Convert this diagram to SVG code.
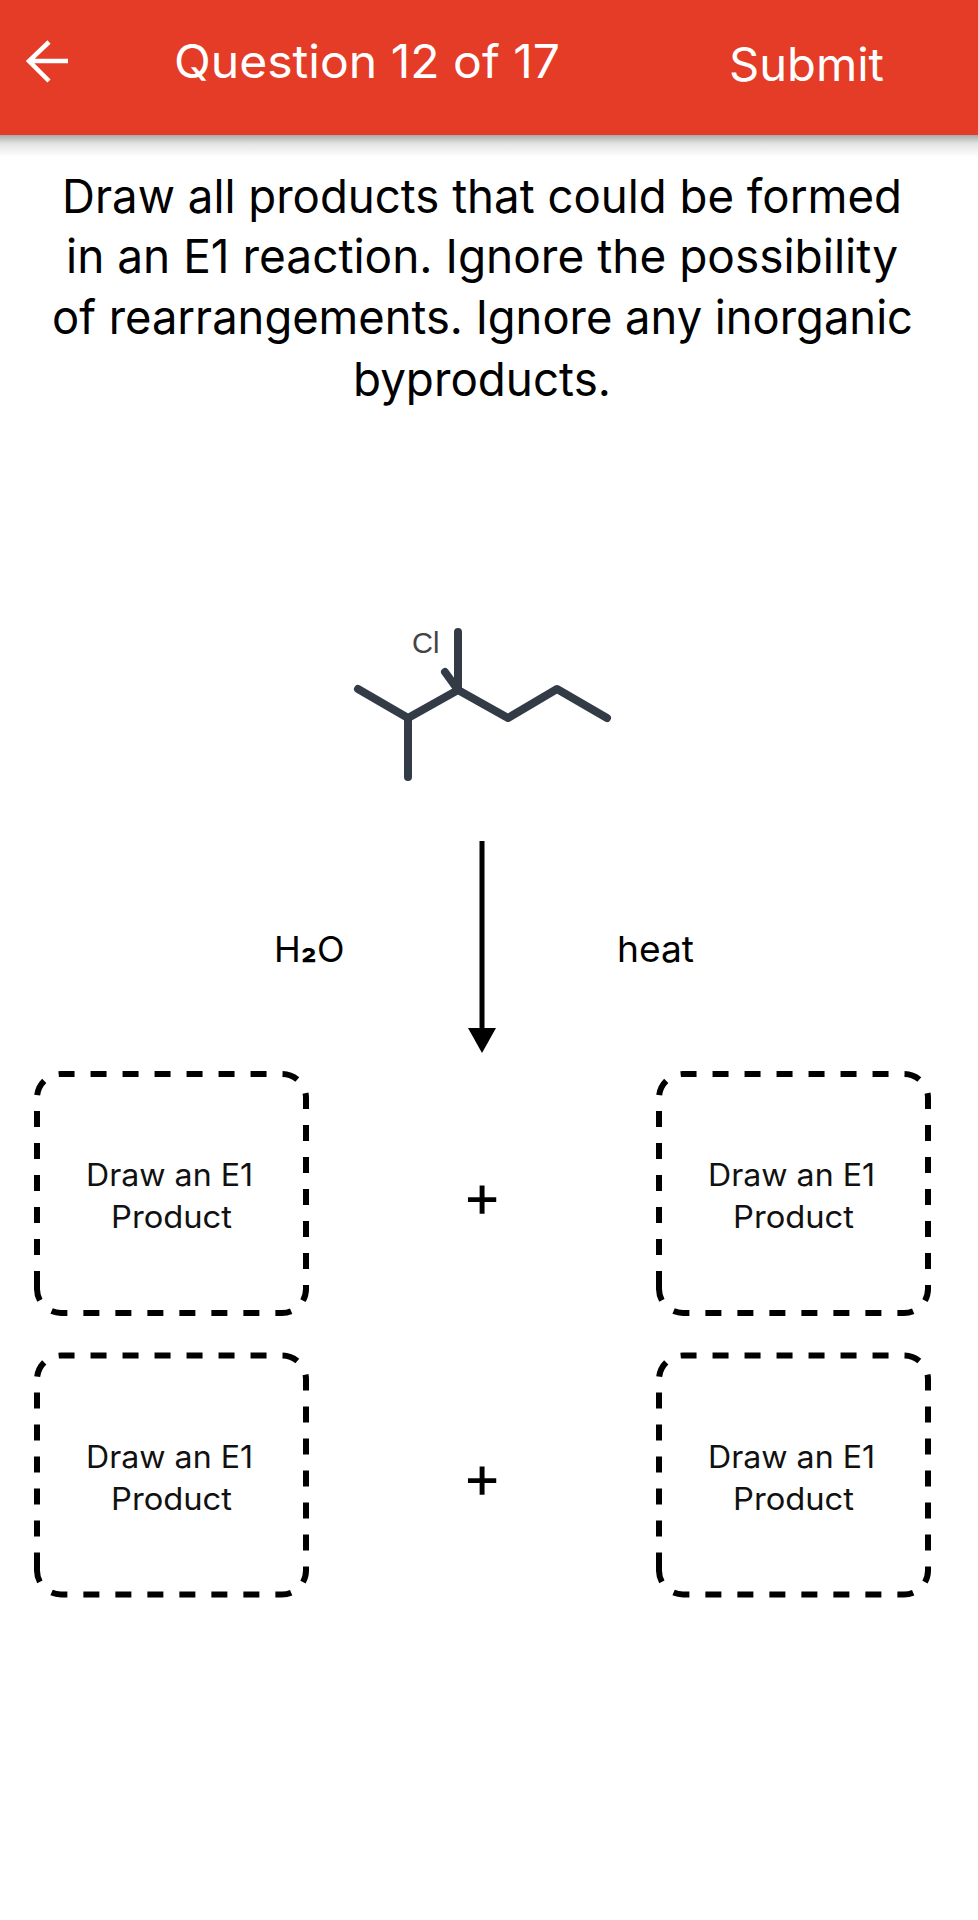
<svg xmlns="http://www.w3.org/2000/svg" width="978" height="1920" viewBox="0 0 978 1920">
<style>
text{font-family:Inter,"Noto Sans",sans-serif;fill:#000}
.hd{fill:#fff;font-size:46px}
.q{font-size:46.5px}
.lb{font-size:36px}
.bt{font-size:31px;fill:#111}
.box{fill:none;stroke:#000;stroke-width:6;stroke-dasharray:16 16}
.seam{fill:none;stroke:#000;stroke-width:6}
.bond{fill:none;stroke:#333b47;stroke-width:8;stroke-linecap:round;stroke-linejoin:round}
.plus{font-size:60px;text-anchor:middle}
</style>
<defs>
<linearGradient id="sh" x1="0" y1="0" x2="0" y2="1"><stop offset="0" stop-color="#aaa"/><stop offset="0.4" stop-color="#e4e4e4"/><stop offset="1" stop-color="#fff"/></linearGradient>
<g id="frame">
<path class="box" d="M37 1255V1098A24 24 0 0 1 61 1074H282A24 24 0 0 1 306 1098V1289A24 24 0 0 1 282 1313H61A24 24 0 0 1 37 1289"/>
<path class="seam" d="M37 1290V1271"/>
</g>
</defs>
<rect width="978" height="1920" fill="#fff"/>
<g id="header">
<rect y="135" width="978" height="22" fill="url(#sh)"/>
<rect width="978" height="135" fill="#e53c27"/>
<path d="M68 61H30M49 42L29 61L49 81" fill="none" stroke="#fff" stroke-width="4.5"/>
<text class="hd" x="174" y="78" textLength="386" lengthAdjust="spacingAndGlyphs">Question 12 of 17</text>
<text class="hd" x="729" y="81" textLength="155" lengthAdjust="spacingAndGlyphs">Submit</text>
</g>
<g id="question">
<text class="q" x="62" y="213" textLength="840" lengthAdjust="spacingAndGlyphs">Draw all products that could be formed</text>
<text class="q" x="66" y="273" textLength="832" lengthAdjust="spacingAndGlyphs">in an E1 reaction. Ignore the possibility</text>
<text class="q" x="52" y="334" textLength="861" lengthAdjust="spacingAndGlyphs">of rearrangements. Ignore any inorganic</text>
<text class="q" x="353" y="396" textLength="258" lengthAdjust="spacingAndGlyphs">byproducts.</text>
</g>
<g id="molecule">
<path class="bond" d="M358 689L408 718L458 690L508 718L557 689L607 718M408 718V777M458 690V632M445 672L458 690"/>
<text x="412" y="653" style="font-family:'Liberation Sans',sans-serif;font-size:29px;fill:#444">Cl</text>
</g>
<g id="connectors">
<path d="M482 841V1028" stroke="#000" stroke-width="5" fill="none"/>
<path d="M468 1028H496L482 1053Z" fill="#000"/>
</g>
<g id="reagents">
<text class="lb" x="274" y="962">H<tspan dy="-5" font-size="35" font-weight="700">₂</tspan><tspan dy="5">O</tspan></text>
<text class="lb" x="617" y="962" textLength="77" lengthAdjust="spacingAndGlyphs">heat</text>
</g>
<g id="box1"><use href="#frame"/><text class="bt" x="86" y="1186" textLength="167" lengthAdjust="spacingAndGlyphs">Draw an E1</text><text class="bt" x="111" y="1228" textLength="121" lengthAdjust="spacingAndGlyphs">Product</text></g>
<g id="box2" transform="translate(622 0)"><use href="#frame"/><text class="bt" x="86" y="1186" textLength="167" lengthAdjust="spacingAndGlyphs">Draw an E1</text><text class="bt" x="111" y="1228" textLength="121" lengthAdjust="spacingAndGlyphs">Product</text></g>
<g id="box3" transform="translate(0 281.5)"><use href="#frame"/><text class="bt" x="86" y="1186" textLength="167" lengthAdjust="spacingAndGlyphs">Draw an E1</text><text class="bt" x="111" y="1228" textLength="121" lengthAdjust="spacingAndGlyphs">Product</text></g>
<g id="box4" transform="translate(622 281.5)"><use href="#frame"/><text class="bt" x="86" y="1186" textLength="167" lengthAdjust="spacingAndGlyphs">Draw an E1</text><text class="bt" x="111" y="1228" textLength="121" lengthAdjust="spacingAndGlyphs">Product</text></g>
<g id="plus1"><text class="plus" x="482" y="1217">+</text></g>
<g id="plus2"><text class="plus" x="482" y="1498">+</text></g>
</svg>
